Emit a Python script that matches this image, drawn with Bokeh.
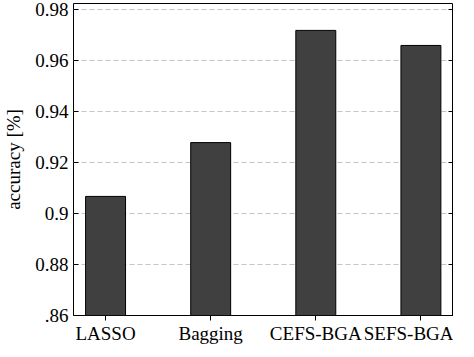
from bokeh.plotting import figure
from bokeh.models import FixedTicker, LinearAxis, Range1d, ColumnDataSource
from bokeh.embed import file_html
from bokeh.resources import INLINE

methods = ["LASSO", "Bagging", "CEFS-BGA", "SEFS-BGA"]
accuracy = [0.9067, 0.9278, 0.9718, 0.9659]
y_ticks = [0.86, 0.88, 0.90, 0.92, 0.94, 0.96, 0.98]
y_tick_labels = [".86", "0.88", "0.9", "0.92", "0.94", "0.96", "0.98"]

xpos = list(range(len(methods)))
src = ColumnDataSource(dict(x=xpos, top=accuracy))

FONT = "Liberation Serif"

p = figure(frame_width=380, frame_height=312, output_backend="svg", toolbar_location=None,
           x_range=Range1d(-0.305, 3.31), y_range=Range1d(0.86, 0.98235),
           min_border_left=69, min_border_right=0, min_border_top=3, min_border_bottom=0)

p.vbar(x="x", top="top", bottom=0.86, width=0.38, source=src,
       fill_color="#404040", line_color="black", line_width=1)

p.outline_line_color = "black"
p.outline_line_width = 1
p.background_fill_color = "white"
p.border_fill_color = "white"

p.xgrid.visible = False
p.ygrid.ticker = FixedTicker(ticks=y_ticks[1:])
p.ygrid.grid_line_color = "#c4c4c4"
p.ygrid.grid_line_dash = "5 3"
p.ygrid.grid_line_width = 1

# left axis
ya = p.yaxis[0]
ya.ticker = FixedTicker(ticks=y_ticks)
ya.major_label_overrides = {t: l for t, l in zip(y_ticks, y_tick_labels)}
ya.major_tick_in = 5
ya.major_tick_out = 0
ya.major_tick_line_color = "black"
ya.minor_tick_line_color = None
ya.axis_line_color = None
ya.major_label_text_font = FONT
ya.major_label_text_font_size = "19px"
ya.major_label_text_color = "black"
ya.major_label_standoff = 5
ya.axis_label = "accuracy [%]"
ya.axis_label_text_font = FONT
ya.axis_label_text_font_size = "19px"
ya.axis_label_text_font_style = "normal"
ya.axis_label_text_color = "black"
ya.axis_label_standoff = 8

# bottom axis
xa = p.xaxis[0]
xa.ticker = FixedTicker(ticks=xpos)
xa.major_label_overrides = {i: m for i, m in enumerate(methods)}
xa.major_tick_in = 0
xa.major_tick_out = 5
xa.major_tick_line_color = "black"
xa.minor_tick_line_color = None
xa.axis_line_color = None
xa.major_label_text_font = FONT
xa.major_label_text_font_size = "19px"
xa.major_label_text_color = "black"
xa.major_label_standoff = 2

# right axis (ticks only)
ra = LinearAxis(ticker=FixedTicker(ticks=y_ticks))
ra.major_tick_in = 5
ra.major_tick_out = 0
ra.major_tick_line_color = "black"
ra.minor_tick_line_color = None
ra.axis_line_color = None
ra.major_label_text_font_size = "0px"
ra.major_label_text_color = None
ra.major_label_standoff = 0
p.add_layout(ra, "right")

open("out.html", "w").write(file_html(p, INLINE))
